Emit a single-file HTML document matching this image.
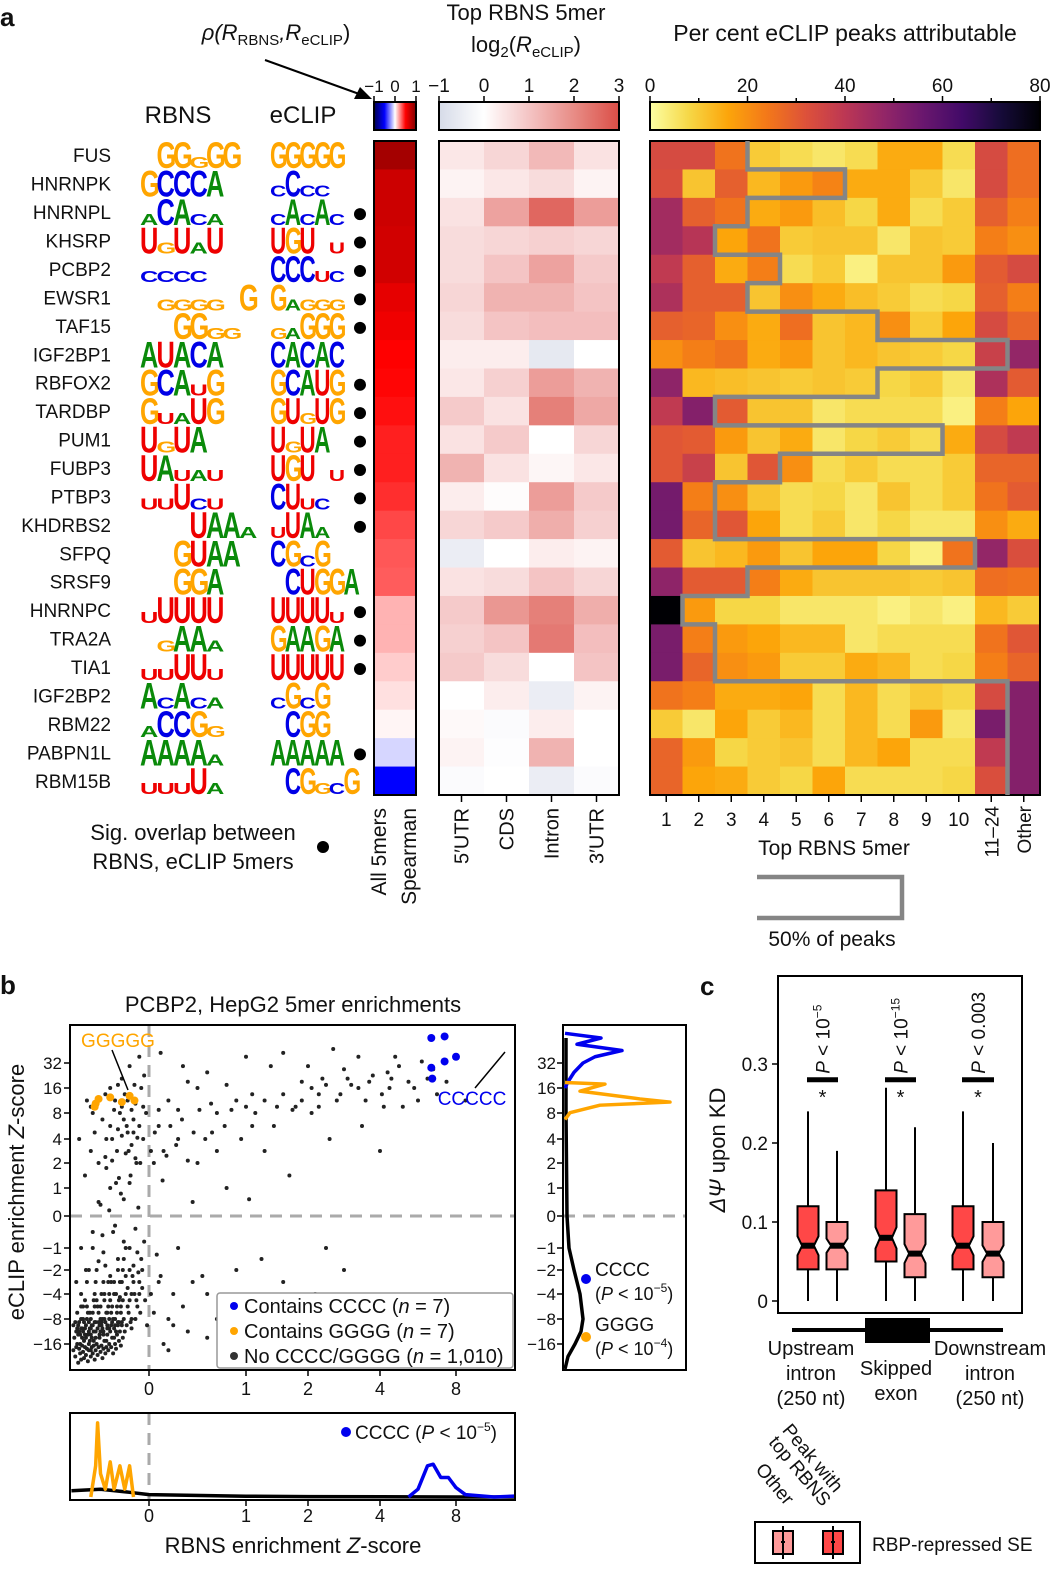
<!DOCTYPE html>
<html><head><meta charset="utf-8">
<style>
html,body{margin:0;padding:0;background:#fff;}
svg{display:block;font-family:"Liberation Sans",sans-serif;}
</style></head>
<body>
<svg id="fig" width="1052" height="1569" viewBox="0 0 1052 1569" xmlns="http://www.w3.org/2000/svg">
<g id="panelA"></g>
<g id="panelB"></g>
<g id="panelC"></g>
</svg>
<script>
// ---------- DATA ----------
const genes = ["FUS","HNRNPK","HNRNPL","KHSRP","PCBP2","EWSR1","TAF15","IGF2BP1","RBFOX2","TARDBP","PUM1","FUBP3","PTBP3","KHDRBS2","SFPQ","SRSF9","HNRNPC","TRA2A","TIA1","IGF2BP2","RBM22","PABPN1L","RBM15B"];
const rbnsLogos = [".GGgGG","GCCCA","aCAca","UgUaU","cccc",".gggg.G","..GGgg","AUACA","GCAuG","GuaUG","UgUA","UAuau","uuUcu","...UAAa","..GUAA","..GGA","uUUUU",".gAAa","uuUUu","AcAca","aCCGg","AAAAa","uuuUa"];
const eclipLogos = ["GGGGG","cCcc","cAcAc","UGU.u","CCCuc","Gaggg","gaGGG","CACAC","GCAUG","GUgUG","UgUA","UGU.u","CUuc","uUAa","CGcG",".CUGGA","UUUUu","GAAGA","UUUUU","cGcG",".CGG","AAAAA",".CGgcG"];
const sigOverlap = [0,0,1,1,1,1,1,0,1,1,1,1,1,1,0,0,1,1,1,0,0,1,0];
const spearman = [0.86,0.7,0.7,0.68,0.68,0.6,0.56,0.5,0.49,0.47,0.44,0.44,0.41,0.36,0.33,0.32,0.15,0.15,0.1,0.06,0.02,-0.08,-0.5];
const regions = ["5\u2032UTR","CDS","Intron","3\u2032UTR"];
const log2Recl = [
[.4,.7,1.2,.5],[.2,.4,.6,.2],[.5,1.6,2.6,1.7],[.6,.7,.8,.7],[.6,1.0,1.6,.9],[.7,1.3,1.3,1.0],[.6,1.0,1.1,1.1],
[.3,.3,-.6,0],[.4,.8,1.7,1.3],[.9,.5,2.2,1.5],[.5,.9,0,.7],[1.3,.5,.15,.4],[.3,.05,1.7,.9],[.7,.9,1.4,.8],
[-.5,0,.3,.2],[.5,.6,1.0,.7],[.9,1.8,2.2,1.4],[.8,1.0,2.3,1.1],[.9,.6,0,1.0],[0,.3,-.5,.2],[.1,-.1,.3,0],[.2,-.05,1.3,0],[-.1,0,-.5,-.1]];
const peakCols = ["1","2","3","4","5","6","7","8","9","10","11\u201324","Other"];
const peakPct = [
[34,34,25,10,7,5,7,15,15,7,34,26],[33,11,29,13,18,22,15,15,10,5,34,26],[45,29,25,15,18,12,8,15,7,10,29,23],
[45,41,16,25,10,11,11,5,11,10,23,20],[39,29,15,23,7,10,3,11,11,18,30,34],[43,29,29,11,20,15,12,10,7,8,29,23],
[29,28,20,15,26,11,13,20,10,16,34,28],[20,23,25,15,18,11,13,11,10,8,37,48],[49,13,12,11,10,11,10,8,10,5,43,30],
[39,51,30,11,11,5,7,7,7,3,23,16],[31,30,18,11,15,5,8,10,7,15,34,39],[31,37,11,31,20,7,10,7,7,10,28,28],
[54,23,20,11,7,8,5,11,7,10,25,30],[54,28,31,16,7,10,5,8,5,5,20,15],[30,11,13,18,11,16,16,8,3,25,48,33],
[49,30,30,23,15,11,11,11,10,11,26,25],[80,18,8,8,5,5,5,3,5,3,13,10],[53,23,18,16,13,13,5,7,7,7,25,31],
[53,28,20,18,10,10,15,13,7,8,23,28],[25,23,15,15,16,7,13,7,10,8,34,51],[10,5,16,10,13,7,13,7,18,5,53,51],
[28,18,8,10,11,7,13,16,7,7,39,51],[28,16,15,10,8,16,7,7,7,8,33,51]];
const halfPeaks = [3,6,3,2,4,3,7,11,7,2,9,4,2,2,10,3,1,2,2,11,11,11,11];
const pctTicks = [0,20,40,60,80];
const logTicks = [-1,0,1,2,3];
const rhoTicks = [-1,0,1];

// panel b
const xTickVals = [0,1,2,4,8];
const yTickVals = [32,16,8,4,2,1,0,-1,-2,-4,-8,-16];
const bgPoints = [
[-0.72,-12],[-0.65,-14],[-0.58,-10],[-0.7,-8],[-0.62,-16],[-0.55,-9],[-0.48,-11],[-0.75,-18],[-0.68,-6],[-0.6,-13],
[-0.52,-7],[-0.44,-15],[-0.38,-9],[-0.66,-5],[-0.59,-10],[-0.5,-12],[-0.42,-6],[-0.35,-8],[-0.28,-10],[-0.7,-4],
[-0.63,-7],[-0.57,-5],[-0.49,-9],[-0.41,-4],[-0.33,-6],[-0.25,-12],[-0.18,-8],[-0.74,-11],[-0.67,-9],[-0.61,-7],
[-0.53,-6],[-0.46,-5],[-0.39,-3],[-0.31,-5],[-0.22,-6],[-0.15,-4],[-0.69,-14],[-0.64,-3],[-0.56,-4],[-0.47,-3],
[-0.4,-2.5],[-0.3,-3],[-0.2,-2],[-0.1,-3],[-0.71,-16],[-0.6,-20],[-0.5,-8],[-0.43,-7],[-0.36,-4],[-0.27,-2],
[-0.17,-2.5],[-0.08,-1.5],[-0.76,-9],[-0.65,-2],[-0.54,-2],[-0.45,-1.8],[-0.32,-1.5],[-0.24,-1],[-0.12,-1.2],[-0.05,-0.8],
[-0.58,-1],[-0.48,-0.6],[-0.37,-0.5],[-0.26,-0.8],[-0.14,-0.4],[-0.52,0.5],[-0.4,1],[-0.29,0.8],[-0.19,1.5],[-0.09,2],
[-0.45,2.5],[-0.34,1.2],[-0.21,3],[-0.11,0.3],[-0.38,4],[-0.23,6],[-0.13,2],[-0.3,8],[-0.16,5],[-0.06,10],
[-0.73,-13],[-0.66,-11],[-0.57,-15],[-0.51,-10],[-0.47,-13],[-0.41,-11],[-0.34,-12],[-0.29,-7],[-0.2,-5],[-0.12,-6],
[-0.78,-10],[-0.7,-6],[-0.62,-9],[-0.55,-12],[-0.46,-8],[-0.39,-7],[-0.32,-9],[-0.24,-4],[-0.16,-3],[-0.07,-2],
[-0.64,-8],[-0.56,-6],[-0.49,-4],[-0.43,-10],[-0.36,-14],[-0.27,-5],[-0.19,-9],[-0.1,-4],[-0.68,-12],[-0.6,-11],
[-0.25,14],[-0.15,18],[-0.35,12],[-0.05,24],[-0.2,30],[-0.1,40],[-0.28,22],[-0.08,16],
[0.1,-3],[0.2,-8],[0.3,-1],[0.4,-12],[0.5,2],[0.6,-4],[0.3,4],[0.7,8],[0.8,1],[0.2,12],[0.5,16],[0.9,-2],[1.1,6],[1.3,3],
[1.5,10],[1.2,-6],[1.7,1.5],[1.9,20],[2.1,8],[2.3,14],[2.6,4],[2.8,12],[3.0,-2],[3.2,18],[3.5,6],[3.8,24],[4.2,10],[4.5,16],
[5,30],[5.5,20],[6,12],[6.5,22],[7,14],[4,3],[3.3,-5],[2.5,-1],[1.4,30],[1.0,40],[0.6,26],[0.4,20],[0.15,-16],[0.25,-10],
[0.45,0.5],[0.35,-6],[0.55,-2.5],[1.6,-3],[2.2,-4],[0.7,-8],[0.1,6],[0.05,2],[0.9,12],[2.0,30],[3.0,28],[5.8,16],[7.5,20],
[8.5,12],[4.8,40],[6.2,34],[2.7,50],[1.8,10],[0.65,5],[1.05,0.6],[1.25,-1.5],[0.2,-20],[0.3,9],[0.15,3],[0.45,-3],[1.1,14],
[2.4,22],[3.6,12],[4.4,26],[5.2,10],[6.8,28],[0.8,18],[0.35,30],[0.12,45],[1.6,45],[3.4,40],[0.25,-4],[0.6,-14],[0.9,-9]];
const clusterPoints = [
[-0.78,-20],[-0.76,-24],[-0.74,-16],[-0.73,-28],[-0.72,-19],[-0.71,-22],[-0.7,-26],[-0.69,-17],[-0.68,-21],[-0.67,-25],
[-0.66,-18],[-0.65,-23],[-0.64,-19],[-0.63,-27],[-0.62,-20],[-0.61,-15],[-0.6,-24],[-0.59,-18],[-0.58,-22],[-0.57,-17],
[-0.56,-26],[-0.55,-20],[-0.54,-16],[-0.53,-23],[-0.52,-18],[-0.51,-14],[-0.5,-21],[-0.49,-17],[-0.48,-25],[-0.47,-19],
[-0.46,-15],[-0.45,-22],[-0.44,-18],[-0.43,-13],[-0.42,-20],[-0.41,-16],[-0.4,-12],[-0.39,-18],[-0.38,-14],[-0.37,-22],
[-0.36,-11],[-0.35,-16],[-0.34,-19],[-0.33,-13],[-0.32,-10],[-0.31,-15],[-0.3,-12],[-0.29,-17],[-0.28,-9],[-0.27,-14],
[-0.77,-14],[-0.75,-12],[-0.73,-10],[-0.71,-13],[-0.69,-11],[-0.67,-15],[-0.65,-10],[-0.63,-13],[-0.61,-11],[-0.59,-14],
[-0.57,-12],[-0.55,-14],[-0.53,-11],[-0.51,-13],[-0.49,-10],[-0.47,-12],[-0.45,-9],[-0.43,-11],[-0.41,-8],[-0.39,-10],
[-0.37,-8],[-0.35,-10],[-0.33,-7],[-0.31,-9],[-0.29,-6],[-0.26,-8],[-0.23,-10],[-0.21,-7],[-0.18,-11],[-0.14,-8],
[-0.74,-7],[-0.72,-9],[-0.7,-11],[-0.68,-8],[-0.66,-13],[-0.64,-6],[-0.62,-12],[-0.6,-8],[-0.58,-7],[-0.56,-9],
[-0.54,-5],[-0.52,-9],[-0.5,-6],[-0.48,-8],[-0.46,-4],[-0.44,-7],[-0.42,-3],[-0.4,-5],[-0.38,-6],[-0.36,-3],
[-0.34,-4],[-0.32,-2],[-0.3,-4.5],[-0.28,-3],[-0.26,-1.5],[-0.24,-2.5],[-0.22,-3.5],[-0.2,-1],[-0.18,-4],[-0.16,-1.8],
[-0.13,-5],[-0.11,-2.2],[-0.09,-7],[-0.07,-3.5],[-0.04,-5],[-0.02,-10],[0.02,-4],[0.05,-7],[0.08,-1.3],[0.12,-2.5],
[-0.62,-2],[-0.58,-0.5],[-0.55,-3],[-0.5,0.4],[-0.47,-1.2],[-0.44,1.8],[-0.41,0.2],[-0.38,2.2],[-0.35,-0.3],[-0.33,3],
[-0.31,1.4],[-0.28,4.5],[-0.26,0.6],[-0.24,2.8],[-0.22,5],[-0.2,1.2],[-0.18,3.5],[-0.16,7],[-0.14,2.4],[-0.12,4.2],
[-0.66,1.5],[-0.6,3],[-0.56,5],[-0.52,2],[-0.48,7],[-0.44,4],[-0.4,6],[-0.36,9],[-0.32,5.5],[-0.28,10],
[-0.26,7],[-0.22,12],[-0.18,9],[-0.14,11],[-0.1,6],[-0.06,4],[-0.03,8],[0.02,3],[0.06,5],[0.1,9],
[0.14,1.3],[0.18,2.6],[0.22,6],[0.28,3.5],[0.34,7],[0.4,2.2],[0.46,5],[0.52,9],[0.58,4],[0.64,11],
[0.7,3],[0.78,6],[0.85,9],[0.95,4],[1.0,10],[1.15,8],[1.3,12],[1.45,6],[1.6,14],[1.75,9],
[1.9,12],[2.1,16],[2.3,10],[2.5,18],[2.9,14],[3.1,22],[3.4,16],[3.7,20],[4.1,14],[4.6,22],
[-0.7,-1],[-0.75,-3],[-0.72,4],[-0.6,10],[-0.52,-1.6],[-0.45,14],[-0.4,16],[-0.32,18],[-0.58,8],[-0.64,12]];
const cccPoints = [[6.7,64],[7.4,66],[8,40],[7.4,34],[6.7,29],[6.75,22],[13.4,50]];
const gggPoints = [[-0.55,11],[-0.52,12.5],[-0.56,10],[-0.4,13],[-0.28,11.5],[-0.2,13.5],[-0.15,12]];
// marginal densities
const blueRY = [16,20,26,32,40,48,56,64,70]; const blueRV = [0,0.05,0.15,0.3,0.5,0.95,0.2,0.6,0];
const orRY = [7,8.1,10.5,11.5,12.5,15,18.5,19.5]; const orRV = [0,0.05,0.35,1.05,0.75,0.15,0.4,0];
const blkRY = [64,8,0,-1,-2,-4,-8,-12,-16,-24,-32]; const blkRV = [0.01,0.01,0.02,0.04,0.09,0.15,0.18,0.16,0.1,0.03,0];
const orBX = [-0.6,-0.55,-0.53,-0.5,-0.45,-0.4,-0.36,-0.3,-0.25,-0.2,-0.16]; const orBV = [0,0.4,0.95,0.3,0.1,0.45,0.1,0.4,0.1,0.4,0];
const blBX = [5.5,6.0,6.5,6.8,7.2,7.6,8,8.5,10,12,12.7,13.5]; const blBV = [0,0.1,0.4,0.42,0.25,0.25,0.12,0.03,0,0.02,0.12,0];
const bkBX = [-0.8,-0.5,-0.2,0,1,2,8,14]; const bkBV = [0.08,0.1,0.06,0.03,0.01,0.005,0,0];

// panel c
const boxStats = [ // [low, q1, med, q3, high]
[0,.04,.07,.12,.24],[0,.04,.07,.10,.19],
[0,.05,.08,.14,.27],[0,.03,.06,.11,.22],
[0,.04,.07,.12,.24],[0,.03,.06,.10,.20]];
const boxTypes = ["peak","other","peak","other","peak","other"];
const pLabels = ["10","10","0.003"]; const pExps = ["\u22125","\u221215",""];
const dPsiTicks = [0,0.1,0.2,0.3];

// ---------- HELPERS ----------
const NS="http://www.w3.org/2000/svg";
function mk(parent,tag,attrs,text){const e=document.createElementNS(NS,tag);for(const k in attrs)e.setAttribute(k,attrs[k]);if(tag==='text'&&!('fill' in attrs))e.setAttribute('fill','#111');if(text!==undefined)e.textContent=text;parent.appendChild(e);return e;}
function lerp(a,b,t){return a+(b-a)*t;}
function hex(c){return "rgb("+c.map(v=>Math.round(Math.max(0,Math.min(255,v)))).join(",")+")";}
function interpStops(stops,t){t=Math.max(0,Math.min(1,t));for(let i=0;i<stops.length-1;i++){if(t<=stops[i+1][0]){const u=(t-stops[i][0])/(stops[i+1][0]-stops[i][0]);return hex([0,1,2].map(k=>lerp(stops[i][1][k],stops[i+1][1][k],u)));}}return hex(stops[stops.length-1][1]);}
const inferno=[[0,[0,0,4]],[0.1,[22,11,57]],[0.2,[66,10,104]],[0.3,[106,23,110]],[0.4,[147,38,103]],[0.5,[188,55,84]],[0.6,[221,81,58]],[0.7,[243,120,25]],[0.8,[252,165,10]],[0.9,[246,215,70]],[1,[252,255,164]]];
function pctColor(v){return interpStops(inferno,1-v/80);}
const seismic=[[0,[0,0,77]],[0.25,[0,0,255]],[0.5,[255,255,255]],[0.75,[255,0,0]],[1,[128,0,0]]];
function rhoColor(v){return interpStops(seismic,(v+1)/2);}
const logMap=[[0,[214,219,232]],[0.25,[255,255,255]],[0.5,[244,196,196]],[0.75,[232,140,134]],[1,[218,78,70]]];
function logColor(v){return interpStops(logMap,(v+1)/4);}
function piece(xs,ps,v){if(v<=xs[0])return ps[0]+(v-xs[0])*(ps[1]-ps[0])/(xs[1]-xs[0]);for(let i=0;i<xs.length-1;i++){if(v<=xs[i+1])return lerp(ps[i],ps[i+1],(v-xs[i])/(xs[i+1]-xs[i]));}const n=xs.length-1;return ps[n]+(v-xs[n])*(ps[n]-ps[n-1])/(xs[n]-xs[n-1]);}

// ---------- PANEL A ----------
const A=document.getElementById('panelA');
const top0=141, bot0=795, nR=genes.length, rh=(bot0-top0)/nR;
function rowY(i){return top0+i*rh;}
let t;
t=mk(A,'text',{x:0,y:26,'font-size':26,'font-weight':'bold'},'a');


t=mk(A,'text',{x:276,y:40,'font-size':22,'text-anchor':'middle','font-style':'italic'});
t.innerHTML='ρ(<tspan>R</tspan><tspan font-style="normal" font-size="15" dy="5">RBNS</tspan><tspan dy="-5">,</tspan><tspan>R</tspan><tspan font-style="normal" font-size="15" dy="5">eCLIP</tspan><tspan dy="-5" font-style="normal">)</tspan>';


mk(A,'line',{x1:265,y1:60,x2:362,y2:95,stroke:'#000','stroke-width':2});
t=mk(A,'polygon',{points:'372,99 354,99 360,87',fill:'#000'});


t=mk(A,'text',{x:178,y:123,'font-size':24,'text-anchor':'middle'},'RBNS');


t=mk(A,'text',{x:303,y:123,'font-size':24,'text-anchor':'middle'},'eCLIP');



const letterColor={A:'#0a8a0a',C:'#0000e6',G:'#ffa500',U:'#ee0000'};
function drawLogo(str,x0,slot,base,name){
  const g=mk(A,'g',{});
  
  
  for(let k=0;k<str.length;k++){const ch=str[k];if(ch==='.')continue;
    const up=ch.toUpperCase();const h=(ch===up)?1:0.42;
    const x=x0+k*slot;
    const e=mk(g,'text',{transform:'translate('+x+','+base+') scale('+(slot/13)+','+(1.85*h)+')','font-size':20,'font-family':'"Liberation Sans Narrow","Liberation Sans",sans-serif','font-weight':'bold',fill:letterColor[up]},up);
    e.style.fill=letterColor[up];
  }
}
genes.forEach((gname,i)=>{
  const cy=rowY(i)+rh/2;
  t=mk(A,'text',{x:111,y:cy+7,'font-size':19,'text-anchor':'end'},gname);
  
  
  drawLogo(rbnsLogos[i],140,16.5,cy+13,'rbns-logo-'+gname.toLowerCase());
  drawLogo(eclipLogos[i],270,14.7,cy+13,'eclip-logo-'+gname.toLowerCase());
  if(sigOverlap[i]){t=mk(A,'circle',{cx:360,cy:cy+2,r:6,fill:'#000'});
    
    }
  t=mk(A,'rect',{x:374,y:rowY(i),width:42,height:rh+0.5,fill:rhoColor(spearman[i])});
  
  
  log2Recl[i].forEach((v,j)=>{t=mk(A,'rect',{x:439+j*45,y:rowY(i),width:45.5,height:rh+0.5,fill:logColor(v)});
    
    });
  peakPct[i].forEach((v,j)=>{t=mk(A,'rect',{x:650+j*32.5,y:rowY(i),width:33,height:rh+0.5,fill:pctColor(v)});
    
    });
});
[[374,42],[439,180],[650,390]].forEach(([x,w],k)=>{t=mk(A,'rect',{x:x,y:top0,width:w,height:bot0-top0,fill:'none',stroke:'#000','stroke-width':2});
  
  });
(function(){let d='';for(let i=0;i<nR;i++){const x=650+halfPeaks[i]*32.5;const y0=rowY(i),y1=rowY(i+1);
  d+=(i===0?'M'+x+','+y0:'L'+x+','+y0)+' L'+x+','+y1+' ';}
  t=mk(A,'path',{d:d,fill:'none',stroke:'#858585','stroke-width':4.5});
  
  })();
(function(){const defs=mk(document.getElementById('fig'),'defs',{});
  function grad(id,fn,lo,hi){const g=mk(defs,'linearGradient',{id:id,x1:0,x2:1,y1:0,y2:0});for(let k=0;k<=20;k++){const v=lo+(hi-lo)*k/20;mk(g,'stop',{offset:(k*5)+'%','stop-color':fn(v)});}}
  grad('gRho',rhoColor,-1,1);grad('gLog',logColor,-1,3);grad('gPct',pctColor,0,80);
  const bars=[[374,42,'gRho',-1,1,rhoTicks,'spearman-colorbar'],[439,180,'gLog',-1,3,logTicks,'log2-colorbar'],[650,390,'gPct',0,80,pctTicks,'peak-pct-colorbar']];
  bars.forEach(([x,w,id,lo,hi,ticks,name])=>{
    t=mk(A,'rect',{x:x,y:102,width:w,height:28,fill:'url(#'+id+')',stroke:'#000','stroke-width':2});
    
    
    ticks.forEach(v=>{const px=x+(v-lo)/(hi-lo)*w;mk(A,'line',{x1:px,x2:px,y1:96,y2:102,stroke:'#000','stroke-width':1.5});
      t=mk(A,'text',{x:px,y:92,'font-size':(id==='gRho'?17:19),'text-anchor':'middle'},(v<0?'\u2212':'')+Math.abs(v));
      
      });
    if(id==='gPct'){[10,30,50,70].forEach(v=>{const px=x+v/80*w;mk(A,'line',{x1:px,x2:px,y1:98,y2:102,stroke:'#000','stroke-width':1.5});});}
  });})();
t=mk(A,'text',{x:526,y:20,'font-size':22,'text-anchor':'middle'},'Top RBNS 5mer');


t=mk(A,'text',{x:526,y:52,'font-size':22,'text-anchor':'middle'});
t.innerHTML='log<tspan font-size="15" dy="5">2</tspan><tspan dy="-5">(</tspan><tspan font-style="italic">R</tspan><tspan font-size="15" dy="5">eCLIP</tspan><tspan dy="-5">)</tspan>';


t=mk(A,'text',{x:845,y:41,'font-size':23,'text-anchor':'middle'},'Per cent eCLIP peaks attributable');


peakCols.forEach((c,j)=>{const px=650+j*32.5+16.25;mk(A,'line',{x1:px,x2:px,y1:795,y2:802,stroke:'#000','stroke-width':1.5});
  if(j<10){t=mk(A,'text',{x:px,y:826,'font-size':19,'text-anchor':'middle'},c);}
  else{t=mk(A,'text',{x:0,y:0,'font-size':19,'text-anchor':'end',transform:'translate('+(px+7)+',806) rotate(-90)'},c);}
  
  });
regions.forEach((r,j)=>{const px=439+j*45+22.5;mk(A,'line',{x1:px,x2:px,y1:795,y2:802,stroke:'#000','stroke-width':1.5});
  t=mk(A,'text',{x:0,y:0,'font-size':20,'text-anchor':'end',transform:'translate('+(px+7)+',808) rotate(-90)'},r);
  
  });
t=mk(A,'text',{x:0,y:0,'font-size':21,'text-anchor':'end',transform:'translate(386,808) rotate(-90)'},'All 5mers');


t=mk(A,'text',{x:0,y:0,'font-size':21,'text-anchor':'end',transform:'translate(416,808) rotate(-90)'},'Spearman');


t=mk(A,'text',{x:834,y:855,'font-size':21,'text-anchor':'middle'},'Top RBNS 5mer');


t=mk(A,'path',{d:'M757,877 L902,877 L902,918 L757,918',fill:'none',stroke:'#858585','stroke-width':4.5});


t=mk(A,'text',{x:832,y:946,'font-size':21,'text-anchor':'middle'},'50% of peaks');


t=mk(A,'text',{x:193,y:840,'font-size':22,'text-anchor':'middle'},'Sig. overlap between');


t=mk(A,'text',{x:193,y:869,'font-size':22,'text-anchor':'middle'},'RBNS, eCLIP 5mers');


mk(A,'circle',{cx:323,cy:847,r:6,fill:'#000'});

// ---------- PANEL B ----------
const B=document.getElementById('panelB');
const xV=[-1,0,1,2,4,8], xP=[52,149,246,308,380,456];
function sx(v){return piece(xV,xP,v);}
const yV=[-32,-16,-8,-4,-2,-1,0,1,2,4,8,16,32,64], yP=[1369,1344,1319,1294,1270,1248,1216,1188,1163,1139,1113,1088,1063,1038];
function sy(v){return piece(yV,yP,v);}
t=mk(B,'text',{x:0,y:994,'font-size':26,'font-weight':'bold'},'b');


t=mk(B,'text',{x:293,y:1012,'font-size':22,'text-anchor':'middle'},'PCBP2, HepG2 5mer enrichments');


const defs2=mk(document.getElementById('fig'),'defs',{});
const cp=mk(defs2,'clipPath',{id:'cScat'});mk(cp,'rect',{x:70,y:1025,width:445,height:345});
const cp2=mk(defs2,'clipPath',{id:'cR'});mk(cp2,'rect',{x:563,y:1025,width:123,height:345});
const cp3=mk(defs2,'clipPath',{id:'cBt'});mk(cp3,'rect',{x:70,y:1413,width:445,height:87});
const sg=mk(B,'g',{'clip-path':'url(#cScat)'});


mk(sg,'line',{x1:sx(0),x2:sx(0),y1:1025,y2:1370,stroke:'#aaa','stroke-width':3,'stroke-dasharray':'12,8'});
mk(sg,'line',{x1:70,x2:515,y1:sy(0),y2:sy(0),stroke:'#aaa','stroke-width':3,'stroke-dasharray':'12,8'});
bgPoints.concat(clusterPoints).forEach(p=>{t=mk(sg,'circle',{cx:sx(p[0]),cy:sy(p[1]),r:2,fill:'#222'});
  
  });
cccPoints.forEach(p=>{t=mk(sg,'circle',{cx:sx(p[0]),cy:sy(p[1]),r:4,fill:'#0000ee'});
  
  });
gggPoints.forEach(p=>{t=mk(sg,'circle',{cx:sx(p[0]),cy:sy(p[1]),r:4,fill:'#ffa500'});
  
  });
t=mk(B,'text',{x:118,y:1047,'font-size':19,'text-anchor':'middle',fill:'#ffa500'},'GGGGG');


mk(B,'line',{x1:112,y1:1050,x2:128,y2:1090,stroke:'#000','stroke-width':1.5});
t=mk(B,'text',{x:472,y:1105,'font-size':19,'text-anchor':'middle',fill:'#0000ee'},'CCCCC');


mk(B,'line',{x1:475,y1:1088,x2:505,y2:1052,stroke:'#000','stroke-width':1.5});
t=mk(B,'rect',{x:70,y:1025,width:445,height:345,fill:'none',stroke:'#000','stroke-width':2});


t=mk(B,'rect',{x:217,y:1293,width:296,height:75,fill:'#fff',stroke:'#999','stroke-width':1.5,rx:3});


[['#0000ee','Contains CCCC (',"7"],['#ffa500','Contains GGGG (','7'],['#333','No CCCC/GGGG (','1,010']].forEach((l,k)=>{
  const y=1306+k*25;mk(B,'circle',{cx:234,cy:y,r:4,fill:l[0]});
  t=mk(B,'text',{x:244,y:y+7,'font-size':20});
  t.innerHTML=l[1]+'<tspan font-style="italic">n</tspan> = '+l[2]+')';
  
  });
yTickVals.forEach(v=>{const py=sy(v);
  mk(B,'line',{x1:64,x2:70,y1:py,y2:py,stroke:'#000','stroke-width':1.5});
  t=mk(B,'text',{x:62,y:py+6,'font-size':17,'text-anchor':'end'},(v<0?'\u2212':'')+Math.abs(v));
  
  
  mk(B,'line',{x1:557,x2:563,y1:py,y2:py,stroke:'#000','stroke-width':1.5});
  t=mk(B,'text',{x:556,y:py+6,'font-size':17,'text-anchor':'end'},(v<0?'\u2212':'')+Math.abs(v));
  
  });
xTickVals.forEach(v=>{const px=sx(v);
  [[1370,1395],[1500,1522]].forEach(([yb,yl])=>{mk(B,'line',{x1:px,x2:px,y1:yb,y2:yb+6,stroke:'#000','stroke-width':1.5});
  t=mk(B,'text',{x:px,y:yl,'font-size':18,'text-anchor':'middle'},String(v));
  
  });});
t=mk(B,'text',{x:0,y:0,'font-size':22,'text-anchor':'middle',transform:'translate(24,1192) rotate(-90)'});
t.innerHTML='eCLIP enrichment <tspan font-style="italic">Z</tspan>-score';


t=mk(B,'text',{x:293,y:1553,'font-size':22,'text-anchor':'middle'});
t.innerHTML='RBNS enrichment <tspan font-style="italic">Z</tspan>-score';


const rg=mk(B,'g',{'clip-path':'url(#cR)'});


mk(rg,'line',{x1:563,x2:686,y1:sy(0),y2:sy(0),stroke:'#aaa','stroke-width':3,'stroke-dasharray':'12,8'});
function rLine(ys,vs,col,name,scale){const pts=ys.map((y,k)=>(565+vs[k]*scale)+','+sy(y)).join(' ');
  t=mk(rg,'polyline',{points:pts,fill:'none',stroke:col,'stroke-width':3.5,'stroke-linejoin':'round'});
  
  }
rLine(blkRY,blkRV,'#000','density-other-right',100);
rLine(blueRY,blueRV,'#0000ee','density-cccc-right',60);
rLine(orRY,orRV,'#ffa500','density-gggg-right',100);
t=mk(B,'rect',{x:563,y:1025,width:123,height:345,fill:'none',stroke:'#000','stroke-width':2});


mk(B,'circle',{cx:586,cy:1279,r:5,fill:'#0000ee'});
mk(B,'circle',{cx:586,cy:1337,r:5,fill:'#ffa500'});
t=mk(B,'text',{x:595,y:1276,'font-size':19},'CCCC');
t=mk(B,'text',{x:595,y:1300,'font-size':18});t.innerHTML='(<tspan font-style="italic">P</tspan> &lt; 10<tspan font-size="12" dy="-8">\u22125</tspan><tspan dy="8">)</tspan>';

t=mk(B,'text',{x:595,y:1331,'font-size':19},'GGGG');
t=mk(B,'text',{x:595,y:1355,'font-size':18});t.innerHTML='(<tspan font-style="italic">P</tspan> &lt; 10<tspan font-size="12" dy="-8">\u22124</tspan><tspan dy="8">)</tspan>';

const bg=mk(B,'g',{'clip-path':'url(#cBt)'});


mk(bg,'line',{x1:sx(0),x2:sx(0),y1:1413,y2:1500,stroke:'#aaa','stroke-width':3,'stroke-dasharray':'12,8'});
function bLine(xs,vs,col,name){const pts=xs.map((x,k)=>sx(x)+','+(1497-vs[k]*78)).join(' ');
  t=mk(bg,'polyline',{points:pts,fill:'none',stroke:col,'stroke-width':3.5,'stroke-linejoin':'round'});
  
  }
bLine(bkBX,bkBV,'#000','density-other-bottom');
bLine(blBX,blBV,'#0000ee','density-cccc-bottom');
bLine(orBX,orBV,'#ffa500','density-gggg-bottom');
t=mk(B,'rect',{x:70,y:1413,width:445,height:87,fill:'none',stroke:'#000','stroke-width':2});


mk(B,'circle',{cx:346,cy:1432,r:5,fill:'#0000ee'});
t=mk(B,'text',{x:355,y:1439,'font-size':19});t.innerHTML='CCCC (<tspan font-style="italic">P</tspan> &lt; 10<tspan font-size="12" dy="-8">\u22125</tspan><tspan dy="8">)</tspan>';


// ---------- PANEL C ----------
const C=document.getElementById('panelC');
function cy(v){return 1301-v*790;}
const boxX=[808,837,886,915,963,993];
t=mk(C,'text',{x:700,y:995,'font-size':26,'font-weight':'bold'},'c');

t=mk(C,'rect',{x:778,y:976,width:244,height:337,fill:'none',stroke:'#000','stroke-width':2});

dPsiTicks.forEach(v=>{const py=cy(v);mk(C,'line',{x1:772,x2:778,y1:py,y2:py,stroke:'#000','stroke-width':1.5});
  t=mk(C,'text',{x:768,y:py+7,'font-size':19,'text-anchor':'end'},String(v));
  });
t=mk(C,'text',{x:0,y:0,'font-size':22,'text-anchor':'middle',transform:'translate(725,1150) rotate(-90)'});
t.innerHTML='<tspan font-style="italic">\u0394\u03A8</tspan> upon KD';

function drawBox(g,cx,s,type,w){
  const col=type==='peak'?'#ff4747':'#ff9a9a';
  mk(g,'line',{x1:cx,x2:cx,y1:cy(s[0]),y2:cy(s[4]),stroke:'#000','stroke-width':2});
  const hw=w/2,nw=w*0.28,nh=(s[3]-s[1])*0.15;
  const pts=[[cx-hw,cy(s[1])],[cx-hw,cy(Math.max(s[1],s[2]-nh))],[cx-nw,cy(s[2])],[cx-hw,cy(Math.min(s[3],s[2]+nh))],[cx-hw,cy(s[3])],[cx+hw,cy(s[3])],[cx+hw,cy(Math.min(s[3],s[2]+nh))],[cx+nw,cy(s[2])],[cx+hw,cy(Math.max(s[1],s[2]-nh))],[cx+hw,cy(s[1])]];
  mk(g,'polygon',{points:pts.map(p=>p.join(',')).join(' '),fill:col,stroke:'#000','stroke-width':2});
  mk(g,'line',{x1:cx-nw-1,x2:cx+nw+1,y1:cy(s[2]),y2:cy(s[2]),stroke:'#000','stroke-width':6});
}
boxStats.forEach((s,k)=>{const g=mk(C,'g',{});
  
  
  drawBox(g,boxX[k],s,boxTypes[k],21);});
[0,1,2].forEach(k=>{const x1=boxX[2*k]-1,x2=boxX[2*k+1]+1;
  mk(C,'line',{x1:x1,x2:x2,y1:cy(0.28),y2:cy(0.28),stroke:'#000','stroke-width':5});
  t=mk(C,'text',{x:(x1+x2)/2,y:cy(0.28)+24,'font-size':20,'text-anchor':'middle'},'*');
  
  t=mk(C,'text',{x:0,y:0,'font-size':19,transform:'translate('+((x1+x2)/2+7)+','+(cy(0.28)-6)+') rotate(-90)'});
  t.innerHTML='<tspan font-style="italic">P</tspan> &lt; '+pLabels[k]+(pExps[k]?'<tspan font-size="12" dy="-8">'+pExps[k]+'</tspan>':'');
  });
t=mk(C,'line',{x1:792,x2:1003,y1:1330,y2:1330,stroke:'#000','stroke-width':4});

t=mk(C,'rect',{x:865,y:1318,width:65,height:25,fill:'#000'});

[[811,['Upstream','intron','(250 nt)'],1355],[896,['Skipped','exon'],1375],[990,['Downstream','intron','(250 nt)'],1355]].forEach(([x,lines,y0])=>{
  lines.forEach((l,k)=>{t=mk(C,'text',{x:x,y:y0+k*25,'font-size':20,'text-anchor':'middle'},l);
    });});
t=mk(C,'text',{x:0,y:0,'font-size':19,'text-anchor':'middle',transform:'translate(770,1488) rotate(50)'},'Other');

t=mk(C,'text',{x:0,y:0,'font-size':19,'text-anchor':'middle',transform:'translate(808,1462) rotate(50)'},'Peak with');

t=mk(C,'text',{x:0,y:0,'font-size':19,'text-anchor':'middle',transform:'translate(795,1475) rotate(50)'},'top RBNS');

t=mk(C,'rect',{x:755,y:1522,width:105,height:41,fill:'#fff',stroke:'#000','stroke-width':2});

[[783,'#ff9a9a'],[833,'#ff4747']].forEach(([x,c])=>{
  mk(C,'line',{x1:x,x2:x,y1:1526,y2:1559,stroke:'#000','stroke-width':2});
  mk(C,'rect',{x:x-10,y:1531,width:20,height:23,fill:c,stroke:'#000','stroke-width':2});
  mk(C,'line',{x1:x-2,x2:x+2,y1:1542,y2:1542,stroke:'#000','stroke-width':2});
  mk(C,'line',{x1:x,x2:x,y1:1531,y2:1554,stroke:'#000','stroke-width':2});});
t=mk(C,'text',{x:872,y:1551,'font-size':19},'RBP-repressed SE');

</script>
</body></html>
